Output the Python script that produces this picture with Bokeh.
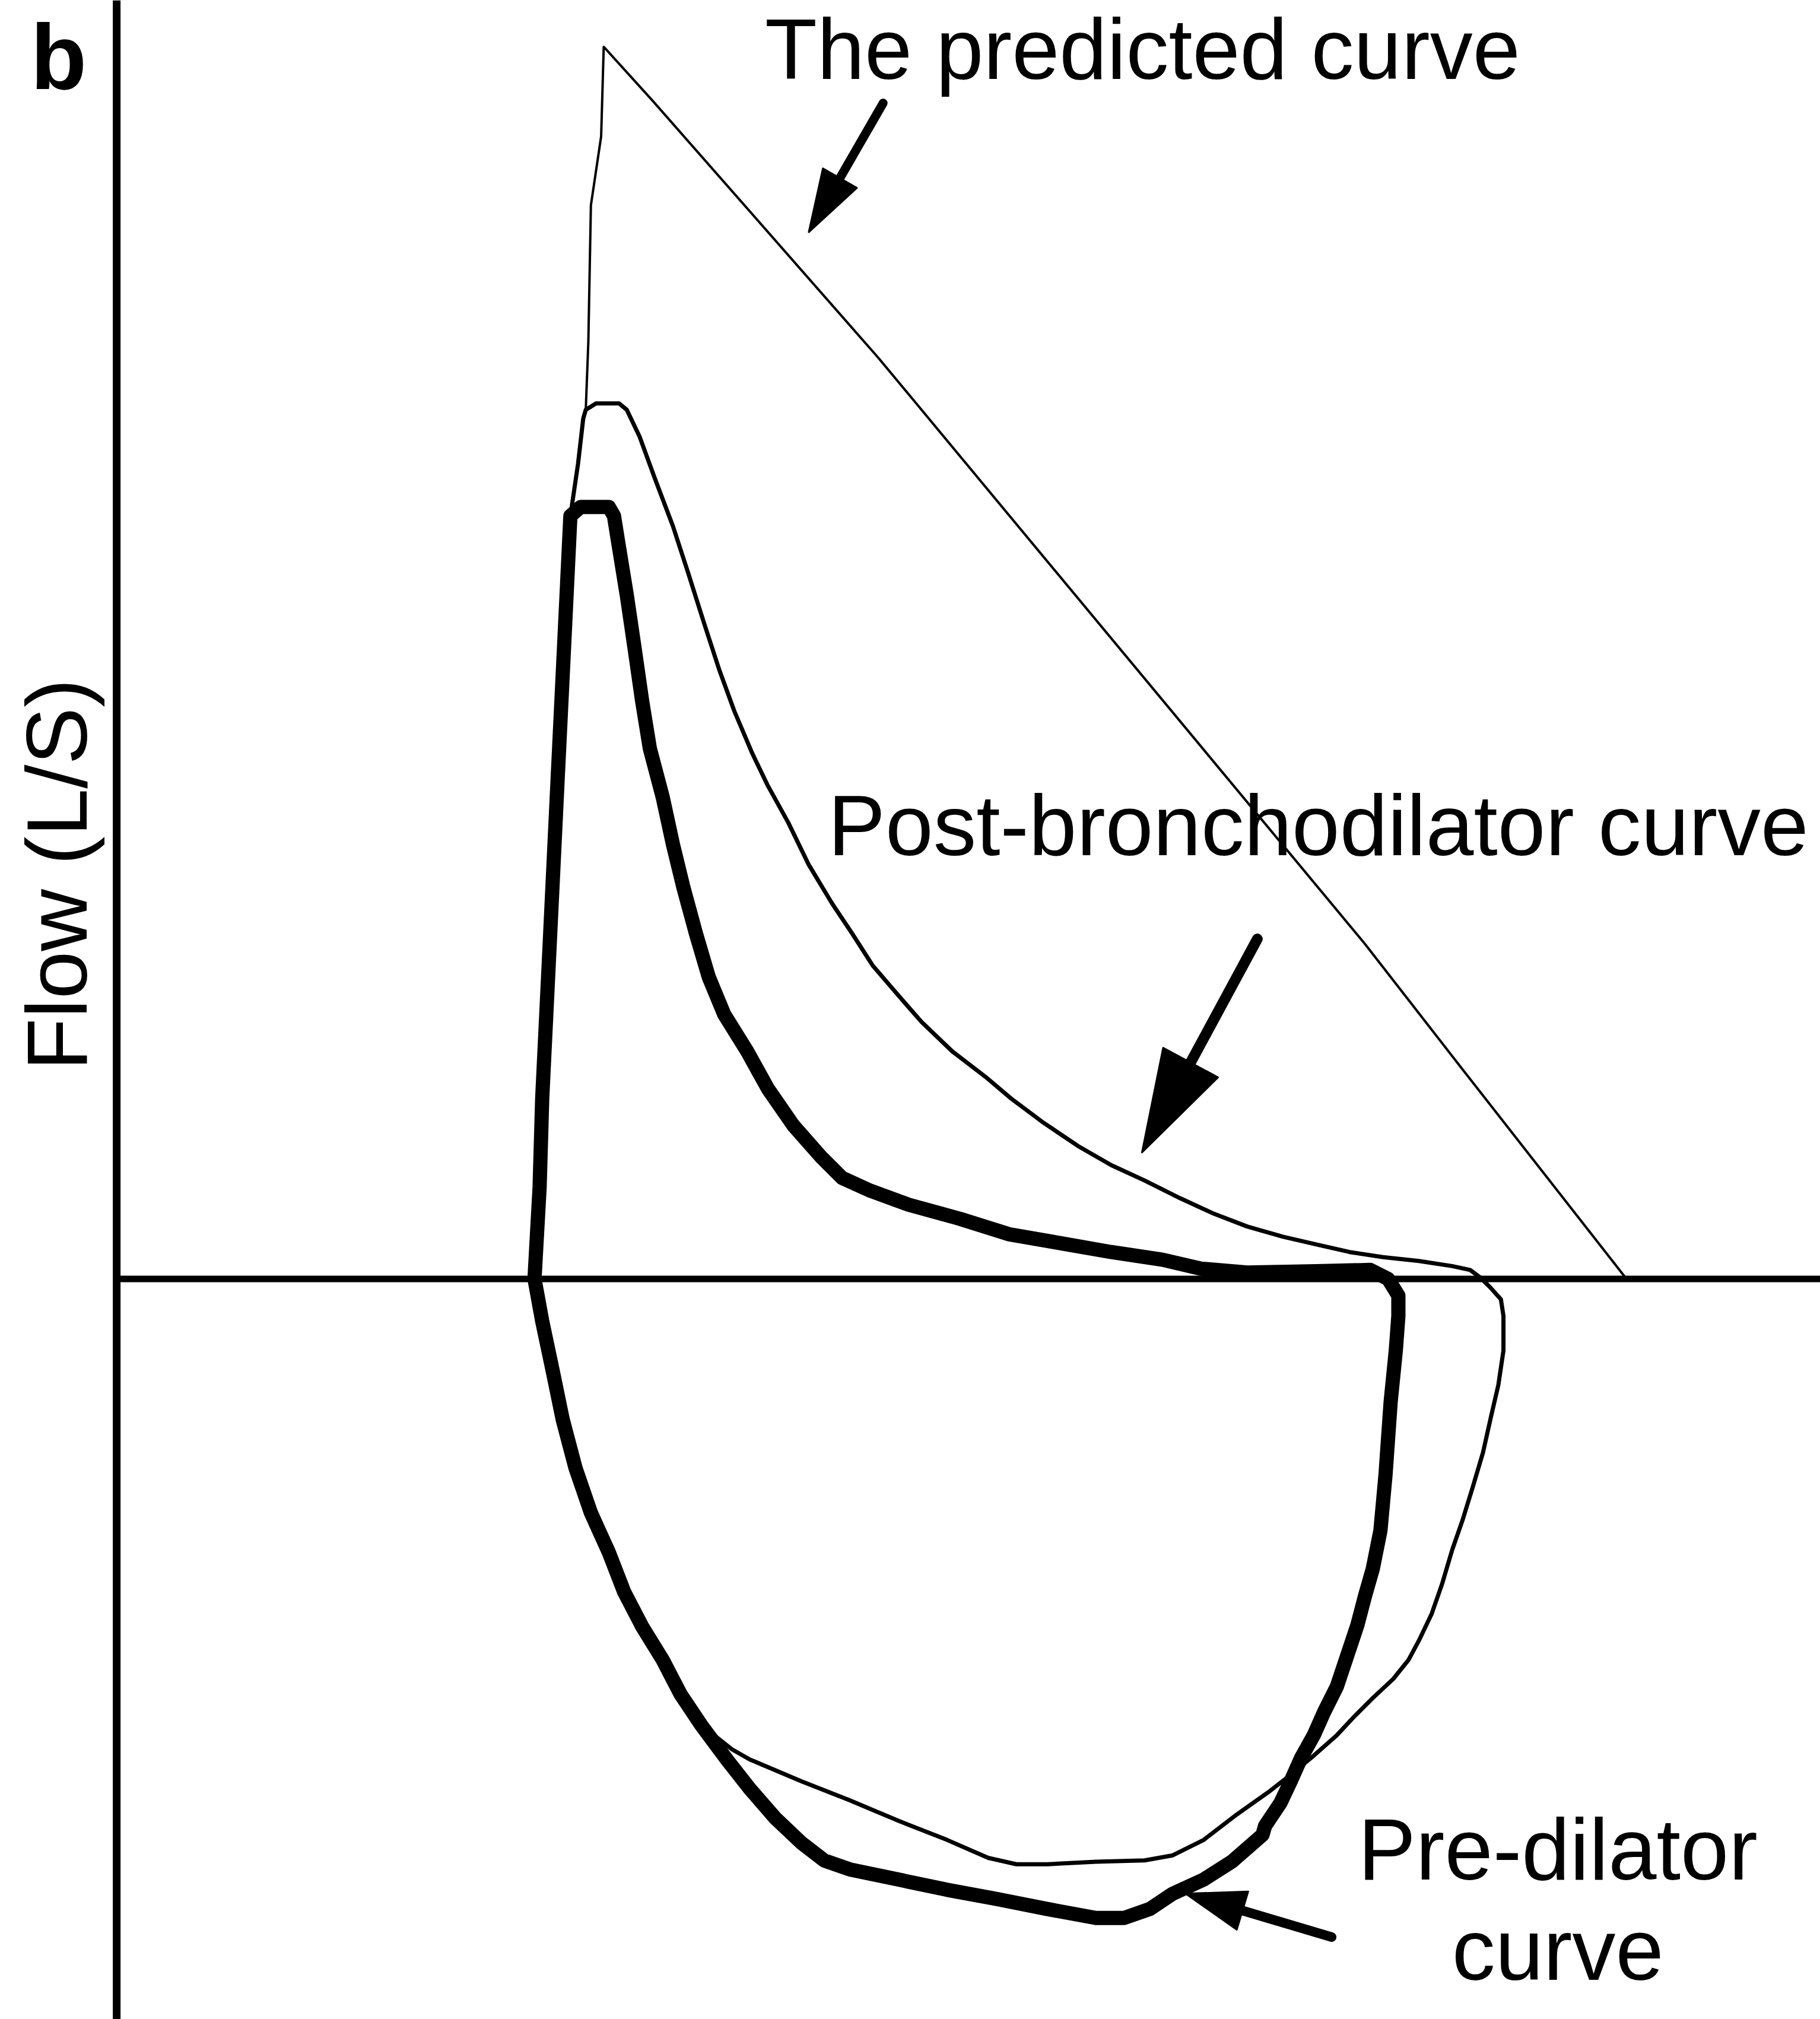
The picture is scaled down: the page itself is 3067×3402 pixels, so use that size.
import math
from bokeh.plotting import figure
from bokeh.models import Range1d, Span, Label
from bokeh.embed import file_html
from bokeh.resources import INLINE

# ---- data (volume in L, flow in L/s) ----
pred_vol = [0.00, 0.02, 0.03, 0.06, 0.09, 0.12, 0.14, 0.17, 0.19, 0.20, 0.21,
            0.22, 0.26, 0.27, 0.46, 1.34, 3.24, 3.62, 4.26]
pred_flow = [0.00, 0.72, 1.41, 2.65, 3.90, 5.14, 5.97, 6.38, 6.73, 6.80, 7.33,
             8.40, 8.94, 9.64, 9.22, 7.21, 2.62, 1.64, 0.00]

post_vol = [0.00, 0.02, 0.03, 0.06, 0.09, 0.12, 0.14, 0.17, 0.19, 0.20, 0.24,
            0.33, 0.36, 0.41, 0.47, 0.54, 0.60, 0.66, 0.72, 0.78, 0.85, 0.91,
            0.99, 1.07, 1.16, 1.24, 1.32, 1.41, 1.51, 1.63, 1.76, 1.86, 1.98,
            2.12, 2.25, 2.38, 2.52, 2.65, 2.78, 2.92, 3.05, 3.18, 3.31, 3.45,
            3.58, 3.65, 3.69, 3.73, 3.77, 3.78, 3.78, 3.76, 3.73, 3.70, 3.66,
            3.62, 3.58, 3.54, 3.50, 3.45, 3.41, 3.35, 3.27, 3.20, 3.13, 3.04,
            2.95, 2.86, 2.74, 2.61, 2.49, 2.38, 2.19, 2.00, 1.88, 1.77, 1.61,
            1.42, 1.23, 1.04, 0.84, 0.77, 0.65, 0.57, 0.50, 0.42, 0.35, 0.29,
            0.22, 0.16, 0.11, 0.07, 0.03, 0.00]
post_flow = [0.00, 0.72, 1.41, 2.65, 3.90, 5.14, 5.97, 6.38, 6.73, 6.80, 6.85,
             6.85, 6.80, 6.59, 6.26, 5.89, 5.52, 5.14, 4.77, 4.44, 4.11, 3.86,
             3.57, 3.24, 2.94, 2.70, 2.45, 2.24, 2.01, 1.78, 1.58, 1.41, 1.23,
             1.04, 0.89, 0.77, 0.63, 0.51, 0.41, 0.33, 0.27, 0.21, 0.17, 0.14,
             0.10, 0.07, 0.01, -0.07, -0.16, -0.29, -0.56, -0.83, -1.09, -1.36,
             -1.63, -1.89, -2.12, -2.39, -2.62, -2.83, -2.98, -3.13, -3.28,
             -3.42, -3.57, -3.73, -3.88, -4.02, -4.19, -4.39, -4.51, -4.55,
             -4.56, -4.58, -4.58, -4.53, -4.39, -4.24, -4.08, -3.93, -3.76,
             -3.68, -3.49, -3.25, -2.98, -2.72, -2.45, -2.14, -1.83, -1.48,
             -1.10, -0.71, -0.33, 0.00]

pre_vol = [0.00, 0.02, 0.03, 0.06, 0.09, 0.12, 0.14, 0.18, 0.29, 0.31, 0.33,
           0.36, 0.39, 0.42, 0.45, 0.50, 0.54, 0.58, 0.63, 0.68, 0.74, 0.83,
           0.91, 1.01, 1.12, 1.20, 1.31, 1.46, 1.66, 1.85, 2.05, 2.25, 2.45,
           2.60, 2.78, 3.05, 3.26, 3.33, 3.37, 3.37, 3.36, 3.34, 3.32, 3.30,
           3.27, 3.24, 3.21, 3.17, 3.13, 3.08, 3.04, 2.99, 2.95, 2.91, 2.85,
           2.84, 2.72, 2.61, 2.49, 2.40, 2.30, 2.19, 2.00, 1.80, 1.61, 1.42,
           1.23, 1.13, 1.04, 0.94, 0.84, 0.75, 0.65, 0.57, 0.50, 0.42, 0.35,
           0.29, 0.22, 0.16, 0.11, 0.07, 0.03, 0.00]
pre_flow = [0.00, 0.72, 1.41, 2.65, 3.90, 5.14, 5.97, 6.04, 6.04, 5.97, 5.72,
            5.35, 4.94, 4.52, 4.15, 3.77, 3.40, 3.07, 2.70, 2.36, 2.07, 1.78,
            1.49, 1.20, 0.95, 0.79, 0.69, 0.58, 0.47, 0.35, 0.28, 0.21, 0.15,
            0.08, 0.05, 0.06, 0.07, 0.00, -0.13, -0.29, -0.56, -0.96, -1.53,
            -1.97, -2.27, -2.48, -2.71, -2.95, -3.19, -3.39, -3.57, -3.75,
            -3.93, -4.10, -4.28, -4.35, -4.56, -4.70, -4.81, -4.93, -5.00,
            -5.00, -4.93, -4.85, -4.78, -4.70, -4.62, -4.55, -4.41, -4.22,
            -3.99, -3.76, -3.49, -3.25, -2.98, -2.72, -2.45, -2.14, -1.83,
            -1.48, -1.10, -0.71, -0.33, 0.00]

# ---- layout ----
W, H = 3067, 3402
X0, X1 = -2.084, 5.016
Y0, Y1 = -5.793, 10.004
AXIS_X = -1.63

p = figure(width=W, height=H, x_range=Range1d(X0, X1), y_range=Range1d(Y0, Y1),
           output_backend="svg", toolbar_location=None, min_border=0,
           x_axis_location=None, y_axis_location=None)
p.grid.visible = False
p.outline_line_color = None
p.background_fill_color = "white"
p.border_fill_color = "white"

# axes lines
p.add_layout(Span(location=AXIS_X, dimension="height", line_color="black", line_width=13))
p.ray(x=[AXIS_X], y=[0], length=0, angle=0, line_color="black", line_width=11)

# curves
p.line(pre_vol, pre_flow, line_color="black", line_width=24, line_join="round", line_cap="round")
p.line(post_vol, post_flow, line_color="black", line_width=7, line_join="round", line_cap="round")
p.line(pred_vol, pred_flow, line_color="black", line_width=4, line_join="round", line_cap="round")

# arrows
sx = W / (X1 - X0)
sy = H / (Y1 - Y0)


def arrow(tail, tip, head_len, head_w, shaft_w):
    tx, ty = (tail[0] - X0) * sx, (tail[1] - Y0) * sy
    hx, hy = (tip[0] - X0) * sx, (tip[1] - Y0) * sy
    dx, dy = hx - tx, hy - ty
    L = math.hypot(dx, dy)
    ux, uy = dx / L, dy / L
    bx, by = hx - ux * head_len, hy - uy * head_len
    nx, ny = -uy, ux
    pts = [(hx, hy),
           (bx + nx * head_w / 2, by + ny * head_w / 2),
           (bx - nx * head_w / 2, by - ny * head_w / 2)]
    xs = [x / sx + X0 for x, _ in pts]
    ys = [y / sy + Y0 for _, y in pts]
    ex, ey = bx + ux * head_len * 0.3, by + uy * head_len * 0.3
    p.line([tail[0], ex / sx + X0], [tail[1], ey / sy + Y0], line_color="black",
           line_width=shaft_w, line_cap="round")
    p.patch(xs, ys, fill_color="black", line_color="black", line_width=3, line_join="round")


arrow((1.36, 9.20), (1.07, 8.19), 105, 66, 15)
arrow((2.82, 2.66), (2.37, 0.99), 172, 105, 18)
arrow((3.11, -5.15), (2.54, -4.81), 100, 67, 16)

FONT = "Liberation Sans"


def label(x, y, text, size, align="left", bold=False, angle=0.0):
    p.add_layout(Label(x=x, y=y, text=text, text_font=FONT, text_font_size=size,
                       text_font_style="bold" if bold else "normal",
                       text_align=align, text_baseline="alphabetic",
                       text_color="black", angle=angle))


label(0.899, 9.62, "The predicted curve", "144px")
label(1.145, 3.545, "Post-bronchodilator curve", "145px")
label(3.992, -4.465, "Pre-dilator", "146px", align="center")
label(3.992, -5.25, "curve", "146px", align="center")
label(-1.966, 9.56, "b", "155px", bold=True)
label(-1.862, 3.163, "Flow (L/S)", "145px", align="center", angle=math.pi / 2)

open("out.html", "w").write(file_html(p, INLINE))
